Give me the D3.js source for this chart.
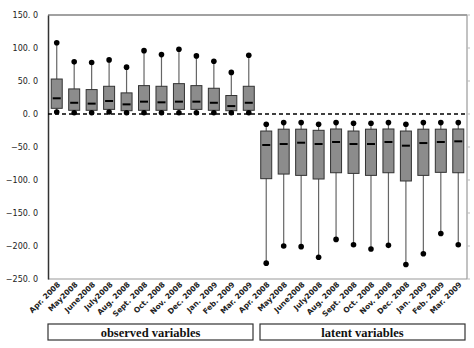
<!DOCTYPE html>
<html><head><meta charset="utf-8">
<script src="https://cdn.jsdelivr.net/npm/d3@7"></script>
<style>body{margin:0;background:#fff}svg{display:block}</style>
</head><body>
<svg id="c" width="474" height="348"></svg>
<script>
const months = ["Apr. 2008","May2008","June2008","July2008","Aug. 2008","Sept. 2008","Oct. 2008","Nov. 2008","Dec. 2008","Jan. 2009","Feb. 2009","Mar. 2009"];
const categories = months.map(m => "obs|" + m).concat(months.map(m => "lat|" + m));
const maxVals = [108,79,78,82,71,96,90,98,88,80,63,89, -15.6,-13,-13,-15.6,-13,-14,-14,-13,-15.6,-13,-13,-13];
const q3Vals  = [53,38,37,42,32,43,42,46,43,39,28,42, -25.8,-23,-23,-24.7,-22.7,-25.8,-23,-22.7,-25.8,-23,-23,-22.7];
const medVals = [23.8,17,15.7,19.7,14.6,18.7,17.7,18.7,18.7,17,12,17, -47,-45.5,-43.5,-45.5,-42.4,-45.5,-45.5,-42.4,-48,-44,-42.4,-41.4];
const q1Vals  = [8.6,5.6,5.6,7,5,5.6,5.6,7,7,5.6,5,5.6, -98,-91,-93,-98.5,-89,-90,-93,-89,-101.5,-93,-88.4,-89];
const minVals = [3,2,2,3,2,2,2,2,2,2,2,2, -226,-200,-201,-217,-190,-198,-204.5,-199,-228,-211.7,-181,-198];
const yTicks = [150,100,50,0,-50,-100,-150,-200,-250];
const groupLabels = ["observed variables","latent variables"];

const svg = d3.select("#c");
const L = 48, R = 467, T = 15, B = 279;
const x = d3.scaleBand().domain(categories).range([L, R]);
const y = d3.scaleLinear().domain([-250,150]).range([B, T]);

// frame
svg.append("line").attr("x1",L).attr("x2",R).attr("y1",T).attr("y2",T).attr("stroke","#444").attr("stroke-width",1.2);
svg.append("line").attr("x1",R).attr("x2",R).attr("y1",T).attr("y2",B).attr("stroke","#999").attr("stroke-width",1.2);
svg.append("line").attr("x1",L).attr("x2",R).attr("y1",B).attr("y2",B).attr("stroke","#999").attr("stroke-width",1);
svg.selectAll(".rt").data(yTicks).enter().append("line")
  .attr("x1",R).attr("x2",R+3).attr("y1",d=>y(d)).attr("y2",d=>y(d)).attr("stroke","#bbb");

// left axis
const ay = svg.append("g").attr("transform",`translate(${L},0)`)
  .call(d3.axisLeft(y).tickValues(yTicks).tickSize(0).tickPadding(10).tickFormat(d => d3.format(".1f")(d).replace(".", ". ")));
ay.select(".domain").attr("stroke","#333").attr("stroke-width",1.5);
ay.selectAll("text").attr("font-family","DejaVu Sans, sans-serif").attr("font-size",8).attr("fill","#222");

// zero dashed line
svg.append("line").attr("x1",L).attr("x2",R).attr("y1",y(0)).attr("y2",y(0))
  .attr("stroke","#000").attr("stroke-width",1.5).attr("stroke-dasharray","4,3");

const bw = 11;
const g = svg.selectAll(".box").data(categories).enter().append("g")
  .attr("transform", d => `translate(${x(d)+x.bandwidth()/2},0)`);
g.append("line").attr("y1",(d,i)=>y(maxVals[i])).attr("y2",(d,i)=>y(minVals[i]))
  .attr("stroke","#666").attr("stroke-width",1.2);
g.append("rect").attr("x",-bw/2).attr("width",bw)
  .attr("y",(d,i)=>y(q3Vals[i])).attr("height",(d,i)=>y(q1Vals[i])-y(q3Vals[i]))
  .attr("fill","#8c8c8c").attr("stroke","#333").attr("stroke-width",1);
g.append("line").attr("x1",-4).attr("x2",4).attr("y1",(d,i)=>y(medVals[i])).attr("y2",(d,i)=>y(medVals[i]))
  .attr("stroke","#000").attr("stroke-width",2);
g.append("circle").attr("cy",(d,i)=>y(maxVals[i])).attr("r",2.8).attr("fill","#000");
g.append("circle").attr("cy",(d,i)=>y(minVals[i])).attr("r",2.8).attr("fill","#000");

// x labels
svg.selectAll(".xl").data(categories).enter().append("text")
  .attr("transform", d => `translate(${x(d)+x.bandwidth()/2+4},${B+6}) rotate(-45)`)
  .attr("text-anchor","end").attr("font-family","DejaVu Sans, sans-serif").attr("font-size",7.5)
  .attr("font-weight","bold").attr("fill","#222")
  .text(d => d.split("|")[1]);

// group boxes
const gx = [[L, 253],[260, 465]];
groupLabels.forEach((t,i) => {
  svg.append("rect").attr("x",gx[i][0]).attr("y",324).attr("width",gx[i][1]-gx[i][0]).attr("height",16)
    .attr("fill","none").attr("stroke","#333").attr("stroke-width",1.2);
  svg.append("text").attr("x",(gx[i][0]+gx[i][1])/2).attr("y",336.5).attr("text-anchor","middle")
    .attr("font-family","Liberation Serif, serif").attr("font-weight","bold").attr("font-size",12.5)
    .attr("fill","#111").text(t);
});
</script>
</body></html>
